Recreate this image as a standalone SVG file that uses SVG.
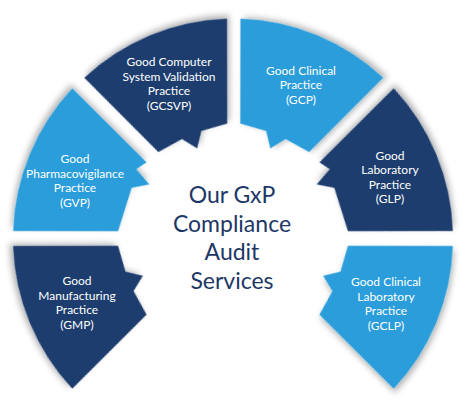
<svg xmlns="http://www.w3.org/2000/svg" width="474" height="411" viewBox="0 0 474 411">
<style>
.dark{fill:#1e3c6e}
.light{fill:#2a9dda}
.seg{filter:url(#sh)}
.lbl{font-family:Lato,"Liberation Sans",sans-serif;font-size:12px;fill:#ffffff;text-anchor:middle}
.ctr{font-family:Lato,"Liberation Sans",sans-serif;font-size:23px;fill:#1d3766;text-anchor:middle}
</style>
<defs>
<filter id="sh" x="-20%" y="-20%" width="140%" height="140%">
<feDropShadow dx="2.5" dy="3" stdDeviation="3" flood-color="#000000" flood-opacity="0.32"/>
</filter>
<path id="segC" d="M109,-37.14 L112,-10.5 L97.5,0 L112,10.5 L109,37.14 L205.97,77.3 A220,220 0 0 0 205.97,-77.3 Z"/>
<path id="segO" d="M109,-37.14 L113,8 L98,18 L116,27 L109,37.14 L205.97,77.3 A220,220 0 0 0 205.97,-77.3 Z"/>
</defs>
<rect width="474" height="411" fill="#ffffff"/>
<g id="connectors"/>
<g id="gcsvp">
<use href="#segC" class="seg dark" transform="translate(234.5,238.5) rotate(-112.5)"/>
<text class="lbl" x="169" y="66">Good Computer</text>
<text class="lbl" x="169" y="80.5">System Validation</text>
<text class="lbl" x="169" y="95">Practice</text>
<text class="lbl" x="169" y="109.5">(GCSVP)</text>
</g>
<g id="gcp">
<use href="#segC" class="seg light" transform="translate(233,238.5) rotate(-67.5)"/>
<text class="lbl" x="301" y="74.5">Good Clinical</text>
<text class="lbl" x="301" y="89">Practice</text>
<text class="lbl" x="301" y="103.5">(GCP)</text>
</g>
<g id="glp">
<use href="#segO" class="seg dark" transform="translate(233,238.5) rotate(-22.5) scale(1,-1)"/>
<text class="lbl" x="390" y="159.5">Good</text>
<text class="lbl" x="390" y="174">Laboratory</text>
<text class="lbl" x="390" y="188.5">Practice</text>
<text class="lbl" x="390" y="203">(GLP)</text>
</g>
<g id="gclp">
<use href="#segC" class="seg light" transform="translate(233,238.5) rotate(22.5)"/>
<text class="lbl" x="386" y="286">Good Clinical</text>
<text class="lbl" x="386" y="300.5">Laboratory</text>
<text class="lbl" x="386" y="315">Practice</text>
<text class="lbl" x="386" y="329.5">(GCLP)</text>
</g>
<g id="gmp">
<use href="#segC" class="seg dark" transform="translate(233,238.5) rotate(-202.5)"/>
<text class="lbl" x="77" y="285">Good</text>
<text class="lbl" x="77" y="299.5">Manufacturing</text>
<text class="lbl" x="77" y="314">Practice</text>
<text class="lbl" x="77" y="328.5">(GMP)</text>
</g>
<g id="gvp">
<use href="#segO" class="seg light" transform="translate(233,238.5) rotate(-157.5)"/>
<text class="lbl" x="75" y="163">Good</text>
<text class="lbl" x="75" y="177.5">Pharmacovigilance</text>
<text class="lbl" x="75" y="192">Practice</text>
<text class="lbl" x="75" y="206.5">(GVP)</text>
</g>
<g id="center">
<text class="ctr" x="232" y="203">Our GxP</text>
<text class="ctr" x="232" y="231.5">Compliance</text>
<text class="ctr" x="232" y="260">Audit</text>
<text class="ctr" x="232" y="288.5">Services</text>
</g>
</svg>
